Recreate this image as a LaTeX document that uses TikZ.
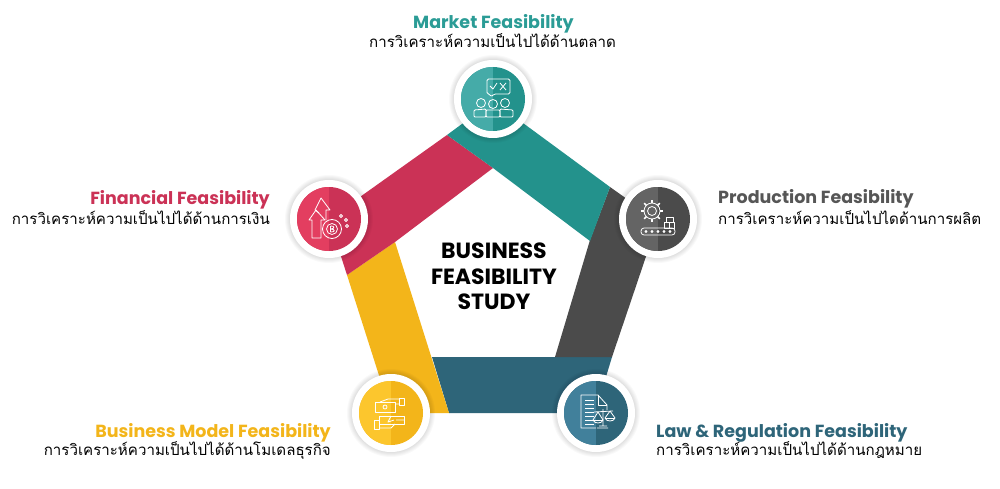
\documentclass[tikz,border=0pt]{standalone}
\usepackage{fontspec}
\usetikzlibrary{calc}
\setmainfont{Poppins}
\newfontfamily\thaifont[Script=Thai]{Loma}
\definecolor{tealband}{HTML}{23928C}
\definecolor{teallight}{HTML}{45ABA8}
\definecolor{redband}{HTML}{CB3256}
\definecolor{redlight}{HTML}{E33E60}
\definecolor{greyband}{HTML}{4B4B4B}
\definecolor{greylight}{HTML}{646464}
\definecolor{blueband}{HTML}{2E6579}
\definecolor{bluelight}{HTML}{41809B}
\definecolor{yellowband}{HTML}{F3B51A}
\definecolor{yellowlight}{HTML}{FCC62D}
\definecolor{tealtext}{HTML}{2B9C96}
\definecolor{greytext}{HTML}{565656}
\tikzset{
	ring/.style={circle,fill=white,minimum size=78pt,inner sep=0pt},
	disc/.style 2 args={circle,fill=#1,minimum size=64pt,inner sep=0pt,path picture={\fill[#2] (path picture bounding box.south west) rectangle (path picture bounding box.north);}},
	head/.style={font=\fontsize{17.5}{20}\selectfont\bfseries,inner sep=0pt},
	thai/.style={font=\fontsize{15.1}{18}\selectfont\thaifont,text=black,inner sep=0pt},
	centertext/.style={font=\fontsize{22}{25.5}\selectfont\bfseries,align=center,inner sep=0pt},
	icon/.style={draw=white,line width=0.8pt,line join=round}
}
\newcommand{\shadowat}[2]{\foreach \r in {40,41,42,43,44}{\fill[black,opacity=0.025] (#1,#2) circle (\r pt);}}
\begin{document}
\begin{tikzpicture}[x=1pt,y=-1pt]
	\useasboundingbox (0,0) rectangle (1000,489);
	\fill[white] (0,0) rectangle (1000,489);
	% bands
	\fill[blueband] (432,357) -- (612,357) -- (595,413) -- (449,413) -- cycle;
	\fill[greyband] (610,187) -- (658,221) -- (612,357) -- (555,357) -- (590,240) -- cycle;
	\fill[yellowband] (347,275) -- (395,242) -- (449,413) -- (391,413) -- cycle;
	\fill[redband] (447,135) -- (493,168) -- (395,242) -- (347,275) -- (329,219) -- cycle;
	\fill[tealband] (447,135) -- (493,101) -- (610,187) -- (590,241) -- (493,168) -- cycle;
	% circles
	\shadowat{493}{99}
	\shadowat{329}{219}
	\shadowat{658}{219}
	\shadowat{391}{413}
	\shadowat{596}{413}
	\node[ring] (marketring) at (493,99) {};
	\node[ring] (financering) at (329,219) {};
	\node[ring] (productionring) at (658,219) {};
	\node[ring] (modelring) at (391,413) {};
	\node[ring] (lawring) at (596,413) {};
	\node[disc={tealband}{teallight}] (market) at (marketring) {};
	\node[disc={redband}{redlight}] (finance) at (financering) {};
	\node[disc={greyband}{greylight}] (production) at (productionring) {};
	\node[disc={yellowband}{yellowlight}] (model) at (modelring) {};
	\node[disc={blueband}{bluelight}] (law) at (lawring) {};
	% market icon
	\begin{scope}[shift={(market.center)},icon]
		\draw[rounded corners=1.5pt] (-3,-5) -- (-6,-5) -- (-6,-20) -- (17,-20) -- (17,-5) -- (1,-5) -- (-2,-2) -- cycle;
		\draw (-3,-13) -- (0,-10) -- (4,-16) (7,-16) -- (13,-9) (13,-16) -- (7,-9);
		\draw (-12,4) circle (4.5pt) (0,5) circle (4.5pt) (12,4) circle (4.5pt);
		\draw[rounded corners=1pt] (-19,18) -- (-19,11) -- (-7,10) -- (-7,18) -- cycle;
		\draw[rounded corners=1pt] (-7,18) -- (-7,11) -- (7,11) -- (7,18) -- cycle;
		\draw[rounded corners=1pt] (7,18) -- (7,10) -- (20,11) -- (20,18) -- cycle;
	\end{scope}
	% finance icon
	\begin{scope}[shift={(finance.center)},icon]
		\draw (-17,19) -- (-17,1) -- (-20,1) -- (-13,-9) -- (-4,1) -- (-8,1) -- (-8,19) -- cycle;
		\draw (-10,-6) -- (-14,-9) -- (-8,-21) -- (1,-9) -- (-3,-9) -- (-3,1);
		\draw (3,10) circle (9.5pt) (3,10) circle (5.5pt);
		\draw (1.5,7) -- (1.5,13) (1.5,7) .. controls (6,6.5) and (6,10) .. (1.5,10) .. controls (6.5,10) and (6.5,13.5) .. (1.5,13);
		\draw (12,-3) circle (1.5pt) (17,1) circle (1.5pt) (18,7) circle (1.5pt);
	\end{scope}
	% production icon
	\begin{scope}[shift={(production.center)},icon]
		\draw (-6,-8) circle (8pt) (-6,-8) circle (4.5pt);
		\foreach \a in {0,45,...,315}{\draw[line width=1.6pt] ($(-6,-8)+(\a:8)$) -- ($(-6,-8)+(\a:11)$);}
		\draw[rounded corners=3pt] (-17,9) rectangle (17,16);
		\foreach \x in {-12,-6,0,6,12}{\draw (\x,12.5) circle (1pt);}
		\draw (8,-2) rectangle (15,3) (6,3) rectangle (11,9) (11,3) rectangle (16,9);
	\end{scope}
	% model icon
	\begin{scope}[shift={(model.center)},icon]
		\draw (-16,-11) rectangle (4,-1) (8,-15) rectangle (13,-8);
		\draw (-11,-11) -- (-3,-14) -- (8,-14) (4,-9) -- (8,-9);
		\draw (-6,-6) circle (2pt);
		\draw (-17,7) rectangle (-12,16) (-12,3) rectangle (13,11);
		\draw (-12,15) -- (0,15) -- (4,11) (0,3) -- (-3,9) -- (3,7) (5,7) -- (13,7);
	\end{scope}
	% law icon
	\begin{scope}[shift={(law.center)},icon]
		\draw (0,15) -- (-15,15) -- (-15,-18) -- (2,-18) -- (11,-8) -- (11,-3);
		\draw (2,-18) -- (2,-8) -- (11,-8);
		\foreach \y in {-13,-9,-5,-1,3,7,11}{\draw (-11,\y) -- (-2,\y);}
		\draw (7,-4) -- (7,13) (-2,-1) -- (17,-2) (1,15) -- (12,15) (3,13) -- (11,13);
		\draw (-3,7) -- (7,7) (9,5) -- (19,5);
		\draw (-3,7) .. controls (-2,11) and (6,11) .. (7,7) (9,5) .. controls (10,9) and (18,9) .. (19,5);
		\draw (2,-1) -- (-3,7) (2,-1) -- (7,7) (14,-2) -- (9,5) (14,-2) -- (19,5);
	\end{scope}
	% labels
	\node[head,text=tealtext] (markethead) at (493.5,24) {Market Feasibility};
	\node[thai] (marketthai) at (492.5,40.5) {การวิเคราะห์ความเป็นไปได้ด้านตลาด};
	\node[head,text=redband,anchor=east] (financehead) at (270,200) {Financial Feasibility};
	\node[thai,anchor=east] (financethai) at (270,217.5) {การวิเคราะห์ความเป็นไปได้ด้านการเงิน};
	\node[head,text=greytext,anchor=west] (productionhead) at (718,199) {Production Feasibility};
	\node[thai,anchor=west] (productionthai) at (718,217.5) {การวิเคราะห์ความเป็นไปไดด้านการผลิต};
	\node[head,text=yellowband,anchor=east] (modelhead) at (331,433) {Business Model Feasibility};
	\node[thai,anchor=east] (modelthai) at (331,450.5) {การวิเคราะห์ความเป็นไปได้ด้านโมเดลธุรกิจ};
	\node[head,text=blueband,anchor=west] (lawhead) at (656,433) {Law \& Regulation Feasibility};
	\node[thai,anchor=west] (lawthai) at (656,450.5) {การวิเคราะห์ความเป็นไปได้ด้านกฎหมาย};
	\node[centertext] (title) at (494,276.5) {BUSINESS\\FEASIBILITY\\STUDY};
\end{tikzpicture}
\end{document}
